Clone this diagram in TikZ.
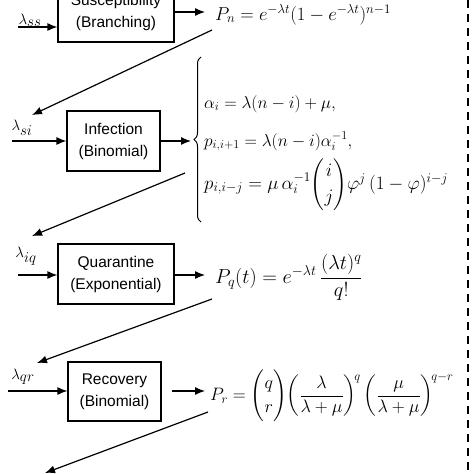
\RequirePackage{fix-cm}
\documentclass[tikz,border=0pt]{standalone}
\usepackage{amsmath}
\usepackage{fontspec}
\setmainfont{Liberation Serif}
\setsansfont{Liberation Sans}
\usetikzlibrary{arrows.meta,decorations.pathreplacing}
\begin{document}
\begin{tikzpicture}[x=1pt,y=-1pt,
  box/.style={draw, line width=1.2pt, minimum height=60pt, align=center,
    font=\sffamily\fontsize{15.5}{22}\selectfont, inner sep=0pt},
  arr/.style={line width=1.2pt, -{Latex[length=10pt,width=8pt]}},
  lab/.style={font=\fontsize{15}{17}\selectfont, inner sep=0pt},
  eq/.style={anchor=base west, inner sep=0pt, font=\fontsize{18.7}{22}\selectfont}]
\useasboundingbox[fill=white] (0,0) rectangle (474,474);

% boxes
\node[box, minimum width=116pt] (S) at (116,12) {Susceptibility\\(Branching)};
\node[box, minimum width=93pt] (I) at (113.5,141) {Infection\\(Binomial)};
\node[box, minimum width=116pt] (Q) at (116,274) {Quarantine\\(Exponential)};
\node[box, minimum width=93pt, minimum height=59pt] (R) at (114.5,391.5) {Recovery\\(Binomial)};

% rate labels
\node[lab] (lss) at (30,20) {$\lambda_{\textstyle ss}$};
\node[lab] (lsi) at (22,128) {$\lambda_{\textstyle si}$};
\node[lab] (liq) at (26,256) {$\lambda_{\textstyle iq}$};
\node[lab] (lqr) at (23,377) {$\lambda_{\textstyle qr}$};

% inputs
\coordinate (sIn) at (18,27);
\coordinate (iIn) at (12,141);
\coordinate (qIn) at (18,275);
\coordinate (rIn) at (8,391);
\draw[arr] (sIn) -- (sIn -| S.west);
\draw[arr] (iIn) -- (iIn -| I.west);
\draw[arr] (qIn) -- (qIn -| Q.west);
\draw[arr] (rIn) -- (rIn -| R.west);

% outputs
\coordinate (sOut) at (205,12);
\coordinate (iOut) at (191,141);
\coordinate (qOut) at (205,275);
\coordinate (rStart) at (172,391);
\coordinate (rOut) at (205,391);
\draw[arr] (S.east) -- (sOut);
\draw[arr] (I.east) -- (iOut);
\draw[arr] (Q.east |- qOut) -- (qOut);
\draw[arr] (rStart) -- (rOut);

% formulas
\node[eq] (Pn) at (215,20) {$P_n =e^{-\lambda t}(1-e^{-\lambda t})^{n-1}$};
\draw[line width=1pt, decorate, decoration={brace, amplitude=7pt}] (201,222) -- (201,57);
\node[eq, font=\fontsize{17.3}{20}\selectfont] (Ea) at (204,108) {$\alpha_i =\lambda(n-i)+\mu,$};
\node[eq, font=\fontsize{17.3}{20}\selectfont] (Eb) at (204,146) {$p_{i,i+1} = \lambda(n-i)\alpha_i^{-1},$};
\node[eq, font=\fontsize{19}{22}\selectfont] (Ec) at (204,189) {$p_{i,i-j} = \mu\,\alpha_i^{-1}\dbinom{i}{j}\varphi^j\,(1-\varphi)^{i-j}$};
\node[eq, font=\fontsize{20.3}{22}\selectfont] (Pq) at (215,283) {$P_q(t)=e^{-\lambda t}\,\dfrac{(\lambda t)^q}{q!}$};
\node[eq, anchor=west, font=\fontsize{18}{20}\selectfont] (Pr) at (210,396) {$P_r=\dbinom{q}{r}\!\left(\dfrac{\lambda}{\lambda+\mu}\right)^{\!q}\left(\dfrac{\mu}{\lambda+\mu}\right)^{\!q-r}$};

% connectors to next stage
\coordinate (d1s) at (212,30);  \coordinate (d1e) at (32,115);
\coordinate (d2s) at (185,173); \coordinate (d2e) at (32,236);
\coordinate (d3s) at (212,299); \coordinate (d3e) at (37,363);
\coordinate (d4s) at (208,412); \coordinate (d4e) at (45,473);
\draw[arr] (d1s) -- (d1e);
\draw[arr] (d2s) -- (d2e);
\draw[arr] (d3s) -- (d3e);
\draw[arr] (d4s) -- (d4e);

% dashed separator
\draw[line width=1.5pt, dash pattern=on 8pt off 6pt] (468,0) -- (468,474);
\end{tikzpicture}
\end{document}
